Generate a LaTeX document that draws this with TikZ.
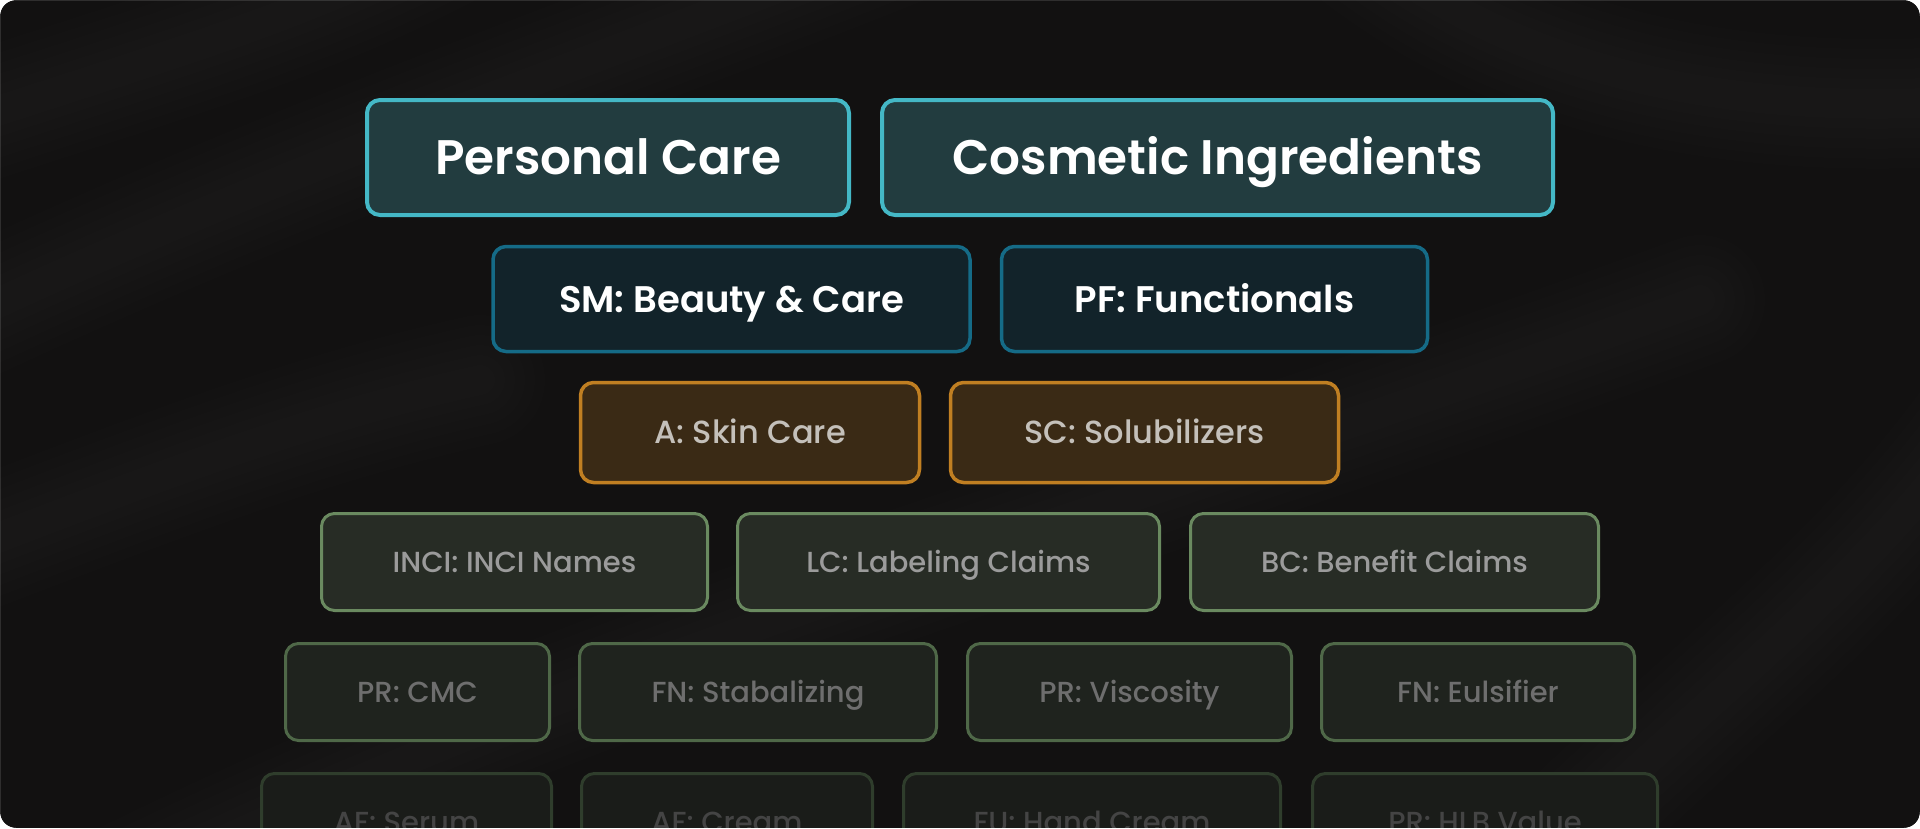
\documentclass[tikz,border=0pt]{standalone}
\usepackage{fontspec}
\setmainfont{Poppins}
\newfontfamily\psemi{Poppins SemiBold}
\newfontfamily\pmed{Poppins Medium}
\definecolor{bgc}{HTML}{121111}
\definecolor{aF}{HTML}{223C3F}\definecolor{aD}{HTML}{44B8C6}
\definecolor{bF}{HTML}{12232A}\definecolor{bD}{HTML}{156B87}
\definecolor{cF}{HTML}{3A2A15}\definecolor{cD}{HTML}{C07F22}\definecolor{cT}{HTML}{C4C0BA}
\definecolor{dF}{HTML}{272C25}\definecolor{dD}{HTML}{6A8A60}\definecolor{dT}{HTML}{9B9B9B}
\definecolor{eF}{HTML}{1F231E}\definecolor{eD}{HTML}{4F6848}\definecolor{eT}{HTML}{6E6E6E}
\definecolor{fF}{HTML}{1A1C19}\definecolor{fD}{HTML}{2F3D2C}\definecolor{fT}{HTML}{444444}
\tikzset{
  box/.style={rectangle, rounded corners=13pt, inner sep=0pt, align=center, text depth=0pt},
  lvA/.style={box, fill=aF, draw=aD, line width=4pt, text=white, font=\psemi\fontsize{48.5}{52}\selectfont, text height=34pt, minimum height=115pt},
  lvB/.style={box, fill=bF, draw=bD, line width=3.5pt, text=white, font=\psemi\fontsize{37}{40}\selectfont, text height=26pt, minimum height=105pt},
  lvC/.style={box, fill=cF, draw=cD, line width=3.5pt, text=cT, font=\pmed\fontsize{32}{36}\selectfont, text height=22.4pt, minimum height=100pt},
  lvD/.style={box, fill=dF, draw=dD, line width=3pt, text=dT, font=\pmed\fontsize{29}{33}\selectfont, text height=20.3pt, minimum height=97pt},
  lvE/.style={box, fill=eF, draw=eD, line width=3pt, text=eT, font=\pmed\fontsize{29}{33}\selectfont, text height=20.3pt, minimum height=97pt},
  lvF/.style={box, fill=fF, draw=fD, line width=3pt, text=fT, font=\pmed\fontsize{29}{33}\selectfont, text height=20.3pt, minimum height=97pt},
  streak/.style={line cap=round, draw=white, draw opacity=0.008},
}
\begin{document}
\begin{tikzpicture}[x=1pt,y=-1pt]
\useasboundingbox (0,0) rectangle (1920,828);
\fill[white] (0,0) rectangle (1920,828);
\begin{scope}
\clip[rounded corners=16pt] (0,0) rectangle (1920,828);
\fill[bgc] (0,0) rectangle (1920,828);
% soft diagonal streaks
\foreach \w in {130,110,90,70,50,30}{
  \draw[streak, line width=\w pt] (-60,330) .. controls (300,160) and (600,60) .. (900,-60);
  \draw[streak, line width=\w pt] (-60,130) .. controls (150,60) and (300,20) .. (450,-60);
  \draw[streak, line width=\w pt] (-60,560) .. controls (150,480) and (300,420) .. (480,380);
  \draw[streak, line width=\w pt] (100,900) .. controls (600,650) and (1100,520) .. (1700,300);
  \draw[streak, line width=\w pt] (1500,900) .. controls (1700,700) and (1850,600) .. (1980,420);
  \draw[streak, line width=\w pt] (1350,-60) .. controls (1500,60) and (1700,120) .. (1980,100);
}
\end{scope}
% row 1
\node[lvA, minimum width=482pt] (pc) at (608,157.5) {Personal Care};
\node[lvA, minimum width=671pt] (ci) at (1217.5,157.5) {Cosmetic Ingredients};
% row 2
\node[lvB, minimum width=477pt] (sm) at (731.5,299) {SM: Beauty \& Care};
\node[lvB, minimum width=426pt] (pf) at (1214.5,299) {PF: Functionals};
% row 3
\node[lvC, minimum width=339pt] (a) at (750,432.5) {A: Skin Care};
\node[lvC, minimum width=388pt] (sc) at (1144.5,432.5) {SC: Solubilizers};
% row 4
\node[lvD, minimum width=386pt] (inci) at (514.5,562) {INCI: INCI Names};
\node[lvD, minimum width=422pt] (lc) at (948.5,562) {LC: Labeling Claims};
\node[lvD, minimum width=408pt] (bc) at (1394.5,562) {BC: Benefit Claims};
% row 5
\node[lvE, minimum width=264pt] (cmc) at (417.5,692) {PR: CMC};
\node[lvE, minimum width=357pt] (stab) at (758,692) {FN: Stabalizing};
\node[lvE, minimum width=324pt] (visc) at (1129.5,692) {PR: Viscosity};
\node[lvE, minimum width=313pt] (eul) at (1478,692) {FN: Eulsifier};
% row 6
\node[lvF, minimum width=290pt] (serum) at (406.5,822) {AF: Serum};
\node[lvF, minimum width=291pt] (cream) at (727,822) {AF: Cream};
\node[lvF, minimum width=377pt] (hand) at (1092,822) {FU: Hand Cream};
\node[lvF, minimum width=345pt] (hlb) at (1485,822) {PR: HLB Value};
% white corners over cut row
\fill[white, even odd rule] (-1,-1) rectangle (1921,829) [rounded corners=16pt] (0,0) rectangle (1920,828);
\end{tikzpicture}
\end{document}
